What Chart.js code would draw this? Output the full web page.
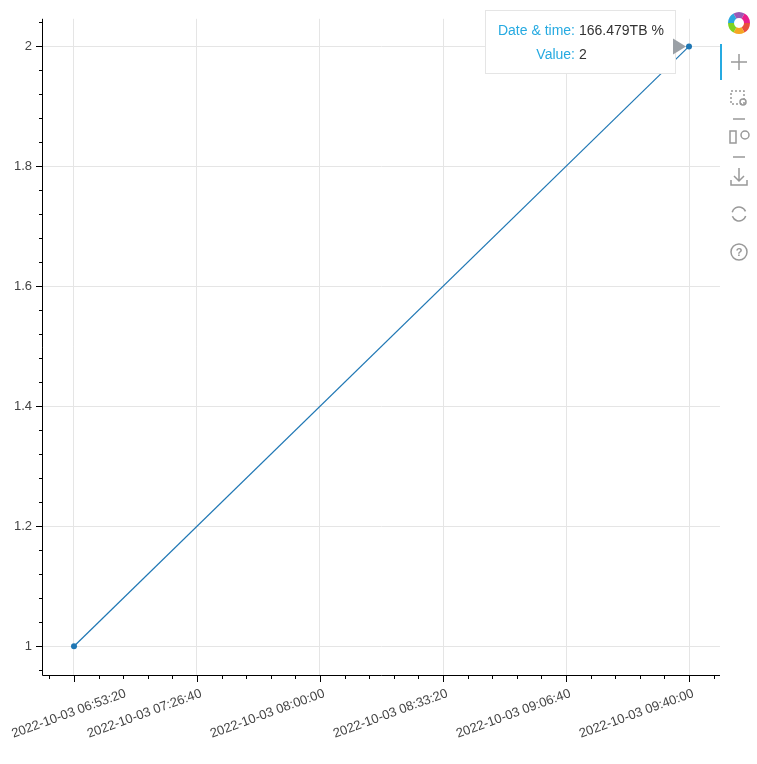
<!DOCTYPE html>
<html><head><meta charset="utf-8">
<script src="https://cdn.jsdelivr.net/npm/chart.js@4"></script>
<style>html,body{margin:0;padding:0;background:#fff}#c{display:block}</style>
</head><body>
<canvas id="c" width="757" height="764"></canvas>
<script>
const times = ["2022-10-03 06:53:20", "2022-10-03 09:40:00"];
const values = [1, 2];
const xTickLabels = ["2022-10-03 06:53:20","2022-10-03 07:26:40","2022-10-03 08:00:00","2022-10-03 08:33:20","2022-10-03 09:06:40","2022-10-03 09:40:00"];
const yTicks = [1, 1.2, 1.4, 1.6, 1.8, 2];
const tooltipLines = [["Date & time: ", "166.479TB %"], ["Value: ", "2"]];

const toMs = s => Date.parse(s.replace(" ", "T") + "Z");
const xMajor = xTickLabels.map(toMs);
const xMin = toMs("2022-10-03 06:44:56"), xMax = toMs("2022-10-03 09:48:24");
const FAM = '"Liberation Sans", Helvetica, Arial, sans-serif';
const FONT = '13px ' + FAM;

const axesPlugin = {
  id: 'axesP',
  afterDraw(chart) {
    const ctx = chart.ctx, a = chart.chartArea, xs = chart.scales.x, ys = chart.scales.y;
    ctx.save();
    ctx.strokeStyle = '#000'; ctx.lineWidth = 1;
    ctx.beginPath();
    ctx.moveTo(a.left - 0.5, a.top); ctx.lineTo(a.left - 0.5, a.bottom + 0.5);
    ctx.moveTo(a.left - 0.5, a.bottom + 0.5); ctx.lineTo(a.right, a.bottom + 0.5);
    for (let t = xMajor[0] - 400000 * 5; t <= xMax; t += 400000) {
      if (t < xMin) continue;
      const px = Math.round(xs.getPixelForValue(t)) + 0.5;
      const major = xMajor.some(m => Math.abs(m - t) < 1);
      ctx.moveTo(px, a.bottom); ctx.lineTo(px, a.bottom + (major ? 7 : 4));
    }
    for (let v = 0.96; v <= 2.045; v += 0.04) {
      const py = Math.round(ys.getPixelForValue(v)) + 0.5;
      const major = yTicks.some(m => Math.abs(m - v) < 1e-6);
      ctx.moveTo(a.left, py); ctx.lineTo(a.left - (major ? 7 : 4), py);
    }
    ctx.stroke();
    ctx.font = FONT; ctx.fillStyle = '#444'; ctx.textAlign = 'right'; ctx.textBaseline = 'top';
    const ang = 0.35;
    xTickLabels.forEach((l, i) => {
      let px = xs.getPixelForValue(xMajor[i]) + 2;
      const w = ctx.measureText(l).width;
      const left = px - w * Math.cos(ang);
      if (left < 10) px += 10 - left;
      ctx.save(); ctx.translate(px, a.bottom + 12); ctx.rotate(-ang); ctx.fillText(l, 0, 0); ctx.restore();
    });
    const p = chart.getDatasetMeta(0).data[1];
    ctx.fillStyle = '#fff'; ctx.strokeStyle = '#e5e5e5';
    ctx.fillRect(485.5, 10.5, 190, 63); ctx.strokeRect(485.5, 10.5, 190, 63);
    ctx.fillStyle = '#9aa0a6';
    ctx.beginPath(); ctx.moveTo(p.x - 3, p.y); ctx.lineTo(p.x - 16, p.y - 8); ctx.lineTo(p.x - 16, p.y + 8); ctx.closePath(); ctx.fill();
    ctx.textBaseline = 'middle'; ctx.font = '14px ' + FAM;
    const lx = 575, ly = [31, 55];
    tooltipLines.forEach((ln, i) => {
      ctx.textAlign = 'right'; ctx.fillStyle = '#26aae1'; ctx.fillText(ln[0].trim(), lx, ly[i]);
      ctx.textAlign = 'left'; ctx.fillStyle = '#333'; ctx.fillText(ln[1], lx + 4, ly[i]);
    });
    const cols = ['#e84e3c','#f5a623','#7ed321','#2ca7e0','#9b59b6','#e91e8c'];
    cols.forEach((c, i) => { ctx.fillStyle = c; ctx.beginPath(); ctx.arc(739, 23, 11, i * Math.PI / 3, (i + 1) * Math.PI / 3); ctx.lineTo(739, 23); ctx.fill(); });
    ctx.fillStyle = '#fff'; ctx.beginPath(); ctx.arc(739, 23, 5, 0, 7); ctx.fill();
    ctx.strokeStyle = '#26aae1'; ctx.lineWidth = 2; ctx.beginPath(); ctx.moveTo(721, 44); ctx.lineTo(721, 80); ctx.stroke();
    ctx.strokeStyle = '#999'; ctx.lineWidth = 1.5;
    ctx.beginPath();
    ctx.moveTo(731, 62); ctx.lineTo(747, 62); ctx.moveTo(739, 54); ctx.lineTo(739, 70);
    ctx.stroke();
    ctx.setLineDash([2, 2]); ctx.strokeRect(731, 91, 13, 13); ctx.setLineDash([]);
    ctx.beginPath(); ctx.arc(743, 102, 3, 0, 7); ctx.stroke();
    ctx.beginPath(); ctx.moveTo(733, 119); ctx.lineTo(745, 119); ctx.moveTo(733, 157); ctx.lineTo(745, 157); ctx.stroke();
    ctx.strokeRect(730, 131, 6, 12); ctx.beginPath(); ctx.arc(745, 135, 4, 0, 7); ctx.stroke();
    ctx.beginPath(); ctx.moveTo(739, 168); ctx.lineTo(739, 180); ctx.moveTo(734, 176); ctx.lineTo(739, 181); ctx.lineTo(744, 176);
    ctx.moveTo(731, 180); ctx.lineTo(731, 185); ctx.lineTo(747, 185); ctx.lineTo(747, 180); ctx.stroke();
    ctx.beginPath(); ctx.arc(739, 214, 7, 0.3, 2.8); ctx.stroke(); ctx.beginPath(); ctx.arc(739, 214, 7, 3.4, 5.9); ctx.stroke();
    ctx.beginPath(); ctx.arc(739, 252, 8, 0, 7); ctx.stroke();
    ctx.fillStyle = '#999'; ctx.font = 'bold 11px ' + FAM; ctx.textAlign = 'center'; ctx.fillText('?', 739, 253);
    ctx.restore();
  }
};

new Chart(document.getElementById('c'), {
  type: 'line',
  data: { datasets: [{ data: times.map((t, i) => ({ x: toMs(t), y: values[i] })),
    borderColor: '#1f77b4', backgroundColor: '#1f77b4', borderWidth: 1.2, pointRadius: 3, pointBorderWidth: 0, tension: 0 }] },
  options: {
    responsive: false, animation: false, events: [],
    layout: { padding: { top: 11, right: 37, left: 0, bottom: 0 } },
    plugins: { legend: { display: false }, tooltip: { enabled: false } },
    scales: {
      x: { type: 'linear', min: xMin, max: xMax,
        afterBuildTicks: s => { s.ticks = xMajor.map(v => ({ value: v })); },
        afterFit: s => { s.height = 89; },
        ticks: { display: false }, border: { display: false },
        grid: { color: '#e5e5e5', drawTicks: false } },
      y: { min: 0.952, max: 2.046,
        afterBuildTicks: s => { s.ticks = yTicks.map(v => ({ value: v })); },
        afterFit: s => { s.width = 43; },
        ticks: { font: { size: 13, family: FAM }, color: '#444', padding: 11, callback: v => String(v) },
        border: { display: false },
        grid: { color: '#e5e5e5', drawTicks: false } }
    }
  },
  plugins: [axesPlugin]
});
</script>
</body></html>
